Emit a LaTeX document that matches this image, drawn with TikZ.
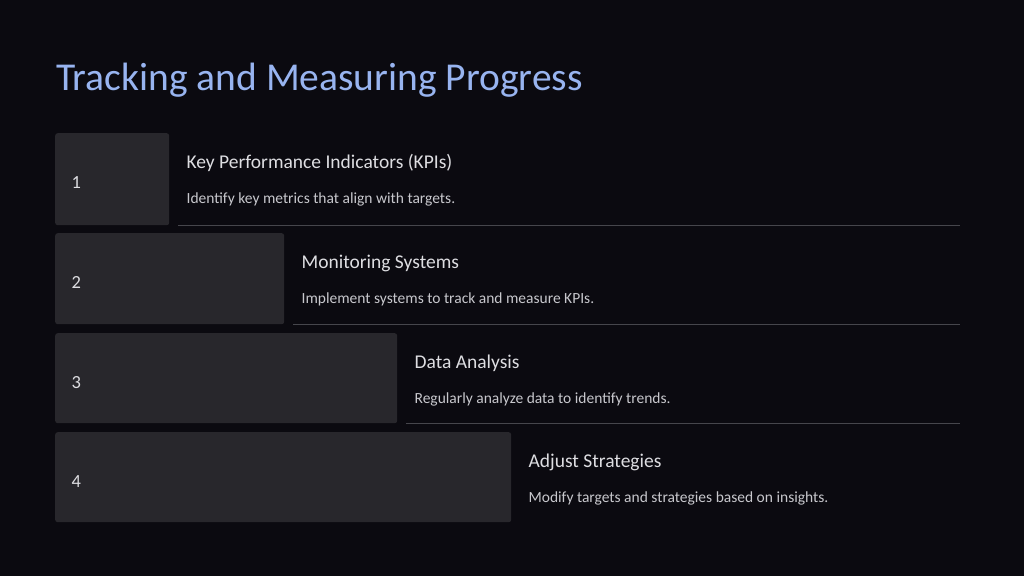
\documentclass[tikz,border=0pt]{standalone}
\usepackage{fontspec}
\setmainfont{Carlito}
\usepackage{tikz}
\usetikzlibrary{positioning}
\definecolor{bg}{RGB}{11, 10, 16}
\definecolor{boxfill}{RGB}{40, 39, 44}
\definecolor{titleblue}{RGB}{152, 180, 240}
\definecolor{rulegray}{RGB}{70, 70, 76}
\definecolor{lighttext}{RGB}{222, 222, 226}
\definecolor{desctext}{RGB}{200, 200, 205}
\tikzstyle{stepbox} = [rectangle, rounded corners=2.5pt, fill=boxfill, draw=none, anchor=north west, inner sep=0pt]
\tikzstyle{num} = [text=lighttext, font=\fontsize{18.5}{20}\selectfont, anchor=base west, inner sep=0pt]
\tikzstyle{heading} = [text=lighttext, font=\fontsize{19.5}{22}\selectfont, anchor=base west, inner sep=0pt]
\tikzstyle{desc} = [text=desctext, font=\fontsize{15.5}{18}\selectfont, anchor=base west, inner sep=0pt]
\tikzstyle{titletext} = [text=titleblue, font=\fontsize{39.5}{48}\selectfont, anchor=base west, inner sep=0pt]
\tikzstyle{sep} = [draw=rulegray, line width=1.3pt]

\begin{document}
\begin{tikzpicture}[x=1pt, y=-1pt]

% background ===================================
\fill[bg] (0,0) rectangle (1024,576);
\useasboundingbox (0,0) rectangle (1024,576);
\coordinate (endmark) at (960,0);

\node[titletext] (title) at (56,90) {Tracking and Measuring Progress};

% step boxes ===================================
\node[stepbox, minimum width=114pt, minimum height=92pt] (b1) at (55,133) {};
\node[stepbox, minimum width=229pt, minimum height=91pt] (b2) at (55,233) {};
\node[stepbox, minimum width=342pt, minimum height=90pt] (b3) at (55,333) {};
\node[stepbox, minimum width=456pt, minimum height=90pt] (b4) at (55,432) {};

% numbers
\node[num] (n1) at ([xshift=16.5pt, yshift=-55pt]b1.north west) {1};
\node[num] (n2) at ([xshift=16.5pt, yshift=-55pt]b2.north west) {2};
\node[num] (n3) at ([xshift=16.5pt, yshift=-55pt]b3.north west) {3};
\node[num] (n4) at ([xshift=16.5pt, yshift=-55pt]b4.north west) {4};

% texts
\node[heading] (h1) at ([xshift=17pt, yshift=-35pt]b1.north east) {Key Performance Indicators (KPIs)};
\node[desc] (d1) at ([xshift=17pt, yshift=-70pt]b1.north east) {Identify key metrics that align with targets.};
\node[heading] (h2) at ([xshift=17pt, yshift=-35pt]b2.north east) {Monitoring Systems};
\node[desc] (d2) at ([xshift=17pt, yshift=-70pt]b2.north east) {Implement systems to track and measure KPIs.};
\node[heading] (h3) at ([xshift=17pt, yshift=-35pt]b3.north east) {Data Analysis};
\node[desc] (d3) at ([xshift=17pt, yshift=-70pt]b3.north east) {Regularly analyze data to identify trends.};
\node[heading] (h4) at ([xshift=17pt, yshift=-35pt]b4.north east) {Adjust Strategies};
\node[desc] (d4) at ([xshift=17pt, yshift=-70pt]b4.north east) {Modify targets and strategies based on insights.};

% separator lines
\draw[sep] ([xshift=9pt]b1.south east) -- (b1.south east -| endmark);
\draw[sep] ([xshift=9pt]b2.south east) -- (b2.south east -| endmark);
\draw[sep] ([xshift=9pt]b3.south east) -- (b3.south east -| endmark);

\end{tikzpicture}
\end{document}
